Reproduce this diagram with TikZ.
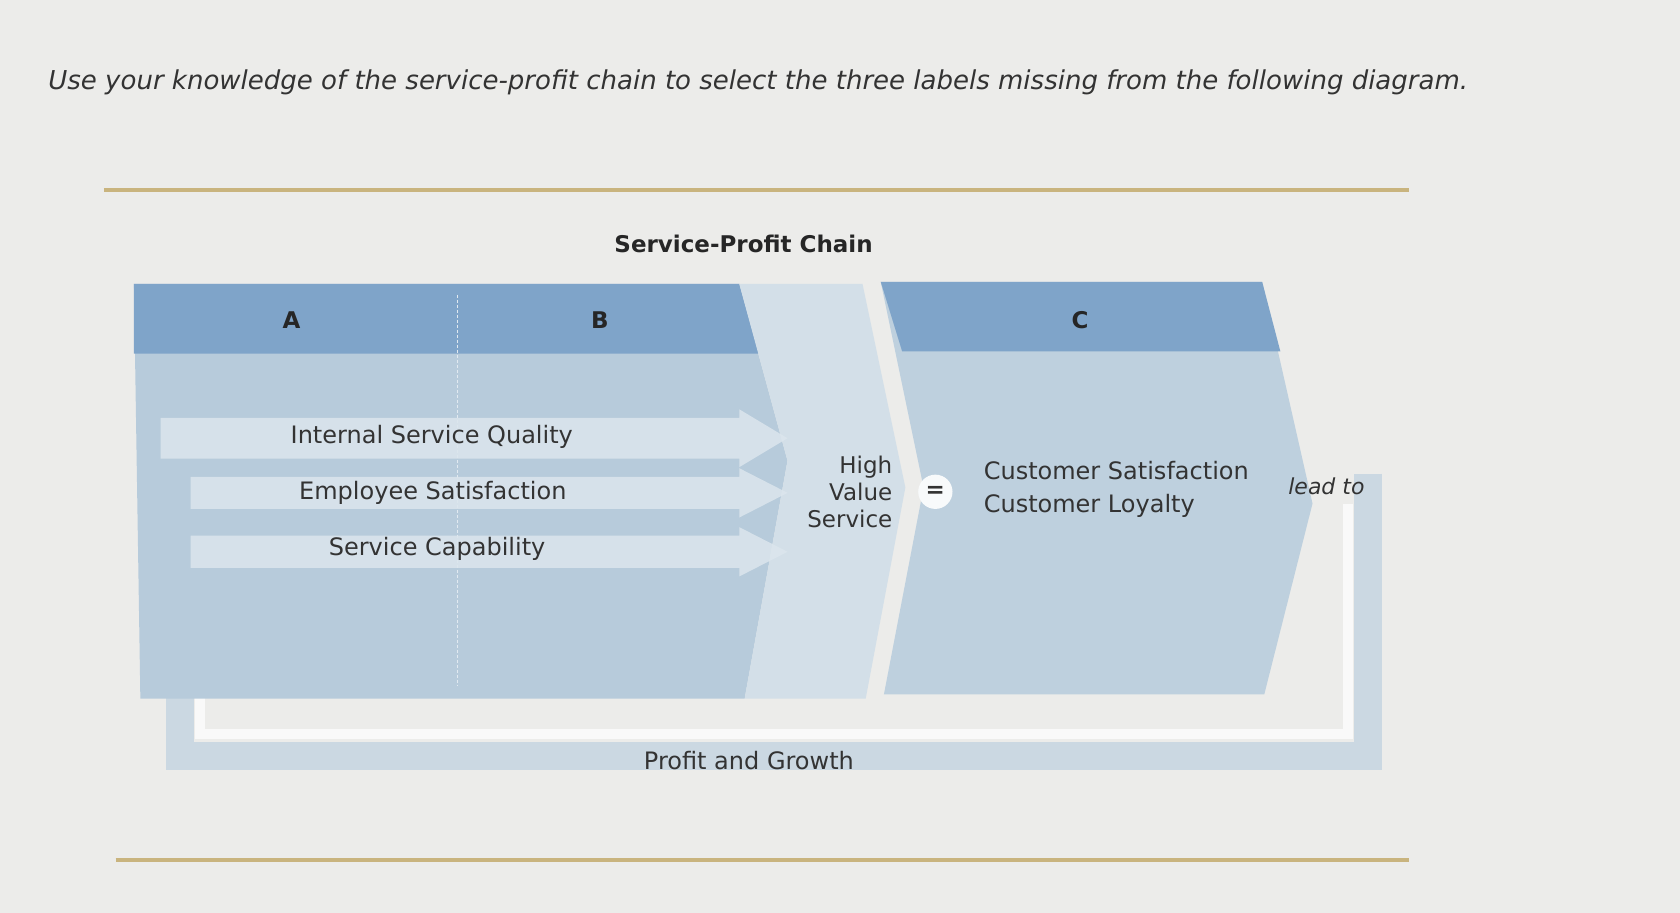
\documentclass[tikz,border=0pt]{standalone}
\usepackage{fontspec}
\setmainfont{DejaVu Sans}
\begin{document}
\begin{tikzpicture}[x=1.0714pt,y=-1.0714pt,
  lbl/.style={font=\fontsize{24}{30}\selectfont, text=black!80, inner sep=0pt},
  hdr/.style={font=\fontsize{23}{28}\selectfont\bfseries, text=black!85, inner sep=0pt}]
\definecolor{bg}{HTML}{ECECEA}
\definecolor{hdrc}{HTML}{7FA4C9}
\definecolor{bodyc}{HTML}{B7CBDB}
\definecolor{midc}{HTML}{D3DFE8}
\definecolor{loopc}{HTML}{CBD8E2}
\definecolor{arrc}{HTML}{DCE6ED}
\definecolor{gold}{HTML}{C9B47E}
\fill[bg] (0,0) rectangle (1568,852);
\useasboundingbox (0,0) rectangle (1568,852);
% title
\node[anchor=west, inner sep=0pt, font=\fontsize{26}{31}\selectfont\itshape, text=black!80] (title) at (45,77) {Use your knowledge of the service-profit chain to select the three labels missing from the following diagram.};
\draw[gold, line width=4] (97,177) -- (1315,177);
\draw[gold, line width=4] (108,803) -- (1315,803);
\node[hdr] (chain) at (694,228) {Service-Profit Chain};
% feedback loop
\draw[loopc, line width=28pt] (1277,442) -- (1277,706) -- (168,706) -- (168,397);
\draw[white!70!bg, line width=10pt] (1258,470) -- (1258,685) -- (187,685) -- (187,420);
% left block
\fill[bodyc] (125,265) -- (690,265) -- (735,430) -- (695,652) -- (131,652) -- cycle;
\fill[hdrc] (125,265) -- (690,265) -- (708,330) -- (125,330) -- cycle;
\draw[white!60!bodyc, densely dashed, line width=1] (427,275) -- (427,640);
% middle band
\fill[midc] (690,265) -- (805,265) -- (845,455) -- (808,652) -- (695,652) -- (735,430) -- cycle;
% C block
\fill[bodyc!75!midc] (822,263) -- (1178,263) -- (1225,470) -- (1180,648) -- (825,648) -- (862,455) -- cycle;
\fill[hdrc] (822,263) -- (1178,263) -- (1195,328) -- (842,328) -- cycle;
% arrows
\foreach \ya/\yb/\xs in {390/428/150, 445/475/178, 500/530/178}{
  \fill[arrc, opacity=0.85] (\xs,\ya) -- (690,\ya) -- (690,\ya-8) -- (735,{(\ya+\yb)/2}) -- (690,\yb+8) -- (690,\yb) -- (\xs,\yb) -- cycle;
}
% texts
\node[hdr] (A) at (272,299) {A};
\node[hdr] (B) at (560,299) {B};
\node[hdr] (C) at (1008,299) {C};
\node[lbl] (isq) at (403,408) {Internal Service Quality};
\node[lbl] (es) at (404,460) {Employee Satisfaction};
\node[lbl] (sc) at (408,512) {Service Capability};
\node[lbl, align=right, anchor=east, font=\fontsize{23}{27}\selectfont] (hvs) at (833,459) {High\\Value\\Service};
\fill[white!85!midc] (873,459) circle (16);
\node[lbl, font=\fontsize{23}{27}\selectfont\bfseries] (eq) at (873,459) {=};
\node[lbl, align=left, anchor=west, font=\fontsize{24}{33}\selectfont] (cs) at (918,457) {Customer Satisfaction\\Customer Loyalty};
\node[lbl, font=\fontsize{22}{26}\selectfont\itshape] (lead) at (1238,454) {lead to};
\node[lbl] (pg) at (699,710) {Profit and Growth};
\end{tikzpicture}
\end{document}
